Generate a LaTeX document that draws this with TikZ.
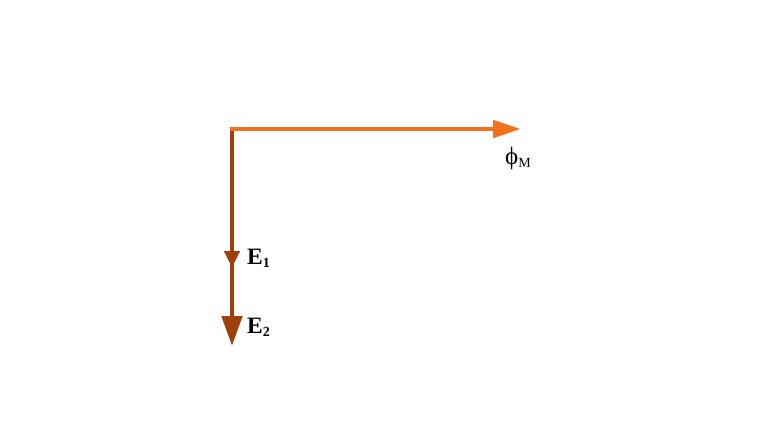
\documentclass[tikz,border=0pt]{standalone}
\usepackage{fontspec}
\setmainfont{Liberation Serif}
\usetikzlibrary{arrows.meta}
\definecolor{orng}{HTML}{F2711C}
\definecolor{brwn}{HTML}{A0400C}
\newcommand{\sbs}[1]{\raisebox{-3.5pt}{\fontsize{14}{15}\selectfont #1}}
\tikzset{
  vec/.style={line width=4.8pt},
  lbl/.style={inner sep=0pt, font=\fontsize{23.5}{25}\selectfont}
}
\begin{document}
\begin{tikzpicture}[x=1pt,y=-1pt]
\useasboundingbox (0,0) rectangle (768,432);
\coordinate (o) at (232,126.5);
\coordinate (phiend) at (521,129);
\coordinate (e1end) at (232,268);
\coordinate (e2end) at (232,346);
\draw[vec, brwn, -{Triangle[length=30pt,width=20pt]}] (o) -- (e2end);
\draw[vec, brwn, -{Triangle[length=17pt,width=15pt]}] (o) -- (e1end);
\draw[vec, orng, -{Triangle[length=28pt,width=17pt]}] (229.6,129) -- (phiend);
\node[lbl, anchor=base west] (e1) at (247,264) {\textbf{E\sbs{1}}};
\node[lbl, anchor=base west] (e2) at (247,333) {\textbf{E\sbs{2}}};
\node[lbl, anchor=base west, font=\fontsize{25}{27}\selectfont] (phi) at (505,164) {ϕ\raisebox{-3pt}{\fontsize{14}{15}\selectfont M}};
\end{tikzpicture}
\end{document}
